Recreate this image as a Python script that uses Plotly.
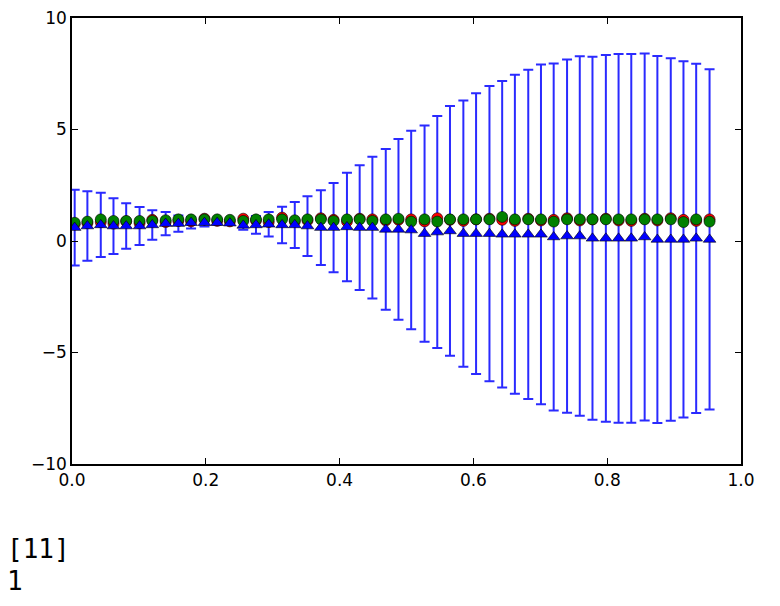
import plotly.graph_objects as go

# x positions of the 50 samples
x_vals = [0.004, 0.023, 0.043, 0.062, 0.081, 0.101, 0.120, 0.140, 0.159, 0.178,
          0.198, 0.217, 0.236, 0.256, 0.275, 0.294, 0.314, 0.333, 0.352, 0.372,
          0.391, 0.411, 0.430, 0.449, 0.469, 0.488, 0.507, 0.527, 0.546, 0.565,
          0.585, 0.604, 0.624, 0.643, 0.662, 0.682, 0.701, 0.720, 0.740, 0.759,
          0.778, 0.798, 0.817, 0.836, 0.856, 0.875, 0.895, 0.914, 0.933, 0.953]

# red circles (mostly hidden behind green)
red_vals = [0.75, 0.80, 0.85, 0.78, 0.88, 0.80, 0.95, 0.85, 0.90, 0.88,
            1.00, 0.90, 0.88, 1.00, 0.92, 0.85, 1.05, 0.88, 0.92, 1.02,
            0.95, 0.88, 1.00, 0.97, 0.92, 0.95, 0.97, 0.88, 1.02, 0.95,
            0.90, 0.97, 1.00, 0.95, 0.90, 1.00, 0.92, 0.95, 1.02, 0.92,
            0.97, 1.00, 0.92, 0.90, 1.00, 0.92, 1.02, 0.95, 0.90, 0.97]

# green circles
green_vals = [0.82, 0.87, 0.97, 0.90, 0.90, 0.90, 0.90, 0.93, 0.97, 0.97,
              0.97, 0.97, 0.95, 0.90, 0.97, 0.97, 0.97, 0.93, 0.97, 0.97,
              0.90, 0.97, 0.97, 0.90, 0.97, 1.00, 0.87, 0.97, 0.87, 0.97,
              0.97, 0.97, 0.97, 1.08, 0.97, 0.97, 0.97, 0.87, 0.97, 0.97,
              0.97, 0.97, 0.97, 0.97, 0.97, 0.97, 0.97, 0.85, 0.97, 0.87]

# blue triangles (errorbar series)
blue_vals = [0.60, 0.67, 0.72, 0.67, 0.67, 0.67, 0.72, 0.78, 0.78, 0.82,
             0.82, 0.82, 0.80, 0.70, 0.72, 0.75, 0.72, 0.72, 0.67, 0.60,
             0.60, 0.63, 0.60, 0.60, 0.52, 0.52, 0.49, 0.33, 0.40, 0.45,
             0.33, 0.33, 0.33, 0.30, 0.30, 0.30, 0.30, 0.18, 0.22, 0.22,
             0.12, 0.12, 0.12, 0.12, 0.18, 0.07, 0.07, 0.07, 0.12, 0.07]

# symmetric error on the blue series
err_vals = [1.70, 1.56, 1.44, 1.25, 1.02, 0.85, 0.66, 0.52, 0.36, 0.26,
            0.17, 0.08, 0.05, 0.20, 0.40, 0.55, 0.82, 1.03, 1.34, 1.68,
            2.00, 2.43, 2.80, 3.18, 3.60, 4.05, 4.45, 4.85, 5.20, 5.60,
            5.97, 6.29, 6.62, 6.87, 7.15, 7.38, 7.62, 7.78, 7.92, 8.06,
            8.14, 8.22, 8.27, 8.27, 8.23, 8.23, 8.13, 7.99, 7.83, 7.63]

x_ticks = [0.0, 0.2, 0.4, 0.6, 0.8, 1.0]
y_ticks = [-10, -5, 0, 5, 10]

fig = go.Figure()

# error bars (drawn underneath the circles)
fig.add_trace(go.Scatter(
    x=x_vals, y=blue_vals, mode="markers",
    marker=dict(size=1, color="rgba(0,0,0,0)"),
    error_y=dict(type="data", array=err_vals, visible=True,
                 color="#2a2aff", thickness=2, width=5),
    showlegend=False, hoverinfo="skip"))

fig.add_trace(go.Scatter(
    x=x_vals, y=red_vals, mode="markers",
    marker=dict(symbol="circle", size=11, color="#ff0000",
                line=dict(color="black", width=0.6)),
    showlegend=False))

fig.add_trace(go.Scatter(
    x=x_vals, y=green_vals, mode="markers",
    marker=dict(symbol="circle", size=11, color="#008000",
                line=dict(color="black", width=0.6)),
    showlegend=False))

fig.add_trace(go.Scatter(
    x=x_vals, y=blue_vals, mode="markers",
    marker=dict(symbol="triangle-up", size=11, color="#0000ff",
                line=dict(color="black", width=0.6)),
    showlegend=False))

axis_common = dict(
    showgrid=False, zeroline=False, showline=True, linecolor="black",
    linewidth=1.5, mirror="ticks", ticks="inside", ticklen=6,
    tickcolor="black", tickwidth=1, automargin=False,
    ticklabeloverflow="allow",
    tickfont=dict(family="DejaVu Sans", size=17, color="black"),
)

fig.update_xaxes(range=[0, 1], tickvals=x_ticks, tickformat=".1f", **axis_common)
fig.update_yaxes(range=[-10, 10], tickvals=y_ticks, **axis_common)

fig.update_layout(
    width=772, height=598,
    margin=dict(l=64, r=39, t=10, b=142),
    paper_bgcolor="white", plot_bgcolor="white",
    annotations=[
        dict(text="[11]", xref="paper", yref="paper", x=-0.1, y=-0.19,
             xanchor="left", yanchor="middle", showarrow=False,
             font=dict(family="DejaVu Sans Mono", size=26, color="black")),
        dict(text="1", xref="paper", yref="paper", x=-0.1, y=-0.262,
             xanchor="left", yanchor="middle", showarrow=False,
             font=dict(family="DejaVu Sans Mono", size=26, color="black")),
    ],
)

fig.write_html("out.html")
